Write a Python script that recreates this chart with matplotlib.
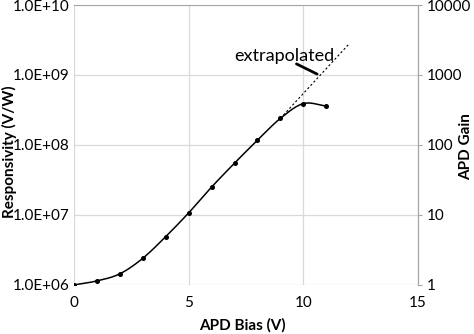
import matplotlib.pyplot as plt
import numpy as np

# data
bias = [0, 1, 2, 3, 4, 5, 6, 7, 8, 9, 10, 11]
resp = [1.0e6, 1.14e6, 1.44e6, 2.4e6, 4.9e6, 1.07e7, 2.5e7, 5.5e7, 1.17e8, 2.4e8, 3.9e8, 3.6e8]
extrap_x = [9, 12]
extrap_y = [2.4e8, 2.8e9]
left_ticks = [1e6, 1e7, 1e8, 1e9, 1e10]
left_labels = ['1.0E+06', '1.0E+07', '1.0E+08', '1.0E+09', '1.0E+10']
right_ticks = [1, 10, 100, 1000, 10000]
right_labels = ['1', '10', '100', '1000', '10000']
x_ticks = [0, 5, 10, 15]

plt.rcParams['font.family'] = ['Lato', 'DejaVu Sans']


def smooth(x, y, n=30):
    # catmull-rom through the points, in log space
    x = np.asarray(x, float)
    y = np.log10(y)
    px = np.concatenate([[2 * x[0] - x[1]], x, [2 * x[-1] - x[-2]]])
    py = np.concatenate([[2 * y[0] - y[1]], y, [2 * y[-1] - y[-2]]])
    xs, ys = [], []
    for i in range(1, len(px) - 2):
        t = np.linspace(0, 1, n)
        for p, out in ((px, xs), (py, ys)):
            p0, p1, p2, p3 = p[i - 1], p[i], p[i + 1], p[i + 2]
            out.extend(0.5 * ((2 * p1) + (-p0 + p2) * t
                              + (2 * p0 - 5 * p1 + 4 * p2 - p3) * t ** 2
                              + (-p0 + 3 * p1 - 3 * p2 + p3) * t ** 3))
    return np.array(xs), 10 ** np.array(ys)


fig = plt.figure(figsize=(4.74, 3.34), dpi=100)
ax = fig.add_axes([0.156, 0.147, 0.726, 0.838])

sx, sy = smooth(bias, resp)
ax.plot(sx, sy, color='black', lw=1.1)
ax.plot(bias, resp, 'o', color='black', ms=2.6)
ax.plot(extrap_x, extrap_y, color='black', lw=0.8, ls=(0, (2, 2)))

ax.set_yscale('log')
ax.set_xlim(0, 15)
ax.set_ylim(1e6, 1e10)
ax.set_xticks(x_ticks)
ax.set_yticks(left_ticks)
ax.set_yticklabels(left_labels)
ax.minorticks_off()
ax.tick_params(length=0, labelsize=11, pad=3)
ax.tick_params(axis='x', pad=8)
ax.grid(color='#d9d9d9', lw=0.9)
for s in ['left', 'bottom']:
    ax.spines[s].set_visible(False)
for s in ['top', 'right']:
    ax.spines[s].set_color('#a6a6a6')

# axis titles sit right at the figure edges, as in the reference
fig.text(0.512, 0.026, 'APD Bias (V)', fontsize=11, fontweight='bold',
         ha='center', va='center')
fig.text(0.021, 0.545, 'Responsivity (V/W)', fontsize=11, fontweight='bold',
         rotation=90, ha='center', va='center')
fig.text(0.983, 0.56, 'APD Gain', fontsize=11, fontweight='bold',
         rotation=90, ha='center', va='center')

ax.text(9.17, 1.86e9, 'extrapolated', fontsize=13, ha='center', va='center')
ax.annotate('', xy=(10.6, 1.03e9), xytext=(9.7, 1.44e9),
            arrowprops=dict(arrowstyle='-', color='black', lw=2, shrinkA=0, shrinkB=0))

ax2 = ax.twinx()
ax2.set_yscale('log')
ax2.set_ylim(1, 10000)
ax2.set_yticks(right_ticks)
ax2.set_yticklabels(right_labels)
ax2.minorticks_off()
ax2.tick_params(length=3, color='#a6a6a6', labelsize=11)
for s in ['left', 'bottom', 'top']:
    ax2.spines[s].set_visible(False)
ax2.spines['right'].set_color('#a6a6a6')

fig.savefig('out.png', dpi=100)
